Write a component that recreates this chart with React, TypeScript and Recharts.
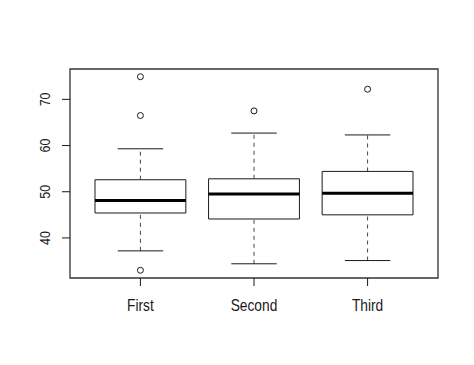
import React from "react";
import {
  ComposedChart,
  XAxis,
  YAxis,
  Scatter,
  ReferenceArea,
  ReferenceLine,
} from "recharts";

const groups = ["First", "Second", "Third"];
const lowerWhisker = [37.2, 34.4, 35.1];
const lowerQuartile = [45.4, 44.1, 45.0];
const medians = [48.1, 49.5, 49.7];
const upperQuartile = [52.6, 52.8, 54.4];
const upperWhisker = [59.3, 62.7, 62.3];
const outliers = [[74.9, 66.5, 33.0], [67.5], [72.2]];
const yTicks = [40, 50, 60, 70];

const FONT = "'Liberation Sans', Arial, Helvetica, sans-serif";
const INK = "#1a1a1a";

// same padding as R: data range + 4% on each side
const allValues = [...lowerWhisker, ...upperWhisker, ...outliers.flat()];
const lo = Math.min(...allValues);
const hi = Math.max(...allValues);
const yMin = lo - (hi - lo) * 0.04;
const yMax = hi + (hi - lo) * 0.04;
const xMin = 0.5 - 0.12;
const xMax = groups.length + 0.5 + 0.12;

const outlierPoints = outliers.flatMap((vals, i) =>
  vals.map((v) => ({ x: i + 1, y: v }))
);

// R's bitmap Helvetica is narrower than Liberation Sans, so squeeze a bit
const XTick = (props: any) => {
  const { x, y, payload } = props;
  return (
    <g transform={`translate(${x}, ${y + 23}) scale(0.86, 1)`}>
      <text x={0} y={0} textAnchor="middle" fontFamily={FONT} fontSize={16} fill={INK}>
        {groups[payload.value - 1]}
      </text>
    </g>
  );
};

const YTick = (props: any) => {
  const { x, y, payload } = props;
  return (
    <g transform={`translate(${x - 10}, ${y}) rotate(-90) scale(0.81, 1)`}>
      <text x={0} y={0} textAnchor="middle" fontFamily={FONT} fontSize={15.5} fill={INK}>
        {payload.value}
      </text>
    </g>
  );
};

const Circle = (props: any) => (
  <circle cx={props.cx} cy={props.cy} r={3} fill="#fff" stroke={INK} strokeWidth={1} />
);

export default function App() {
  return (
    <div style={{ position: "fixed", left: 0, top: 0, background: "#fff" }}>
      <ComposedChart
        width={474}
        height={365}
        margin={{ top: 69, right: 36, bottom: 57, left: 0 }}
      >
        <XAxis
          type="number"
          dataKey="x"
          domain={[xMin, xMax]}
          allowDataOverflow
          ticks={[1, 2, 3]}
          tick={<XTick />}
          tickSize={8}
          tickMargin={2}
          tickLine={{ stroke: INK }}
          axisLine={false}
          height={30}
        />
        <YAxis
          type="number"
          dataKey="y"
          domain={[yMin, yMax]}
          allowDataOverflow
          ticks={yTicks}
          tick={<YTick />}
          tickSize={8}
          tickMargin={2}
          tickLine={{ stroke: INK }}
          axisLine={false}
          width={70}
        />
        <ReferenceArea
          x1={xMin}
          x2={xMax}
          y1={yMin}
          y2={yMax}
          fill="none"
          fillOpacity={0}
          stroke="#333"
          strokeWidth={1.3}
          ifOverflow="visible"
        />
        {groups.map((g, i) => {
          const c = i + 1;
          return (
            <React.Fragment key={g}>
              <ReferenceLine
                segment={[
                  { x: c, y: upperQuartile[i] },
                  { x: c, y: upperWhisker[i] },
                ]}
                stroke="#444"
                strokeDasharray="4 4"
              />
              <ReferenceLine
                segment={[
                  { x: c, y: lowerWhisker[i] },
                  { x: c, y: lowerQuartile[i] },
                ]}
                stroke="#444"
                strokeDasharray="4 4"
              />
              <ReferenceLine
                segment={[
                  { x: c - 0.2, y: upperWhisker[i] },
                  { x: c + 0.2, y: upperWhisker[i] },
                ]}
                stroke={INK}
              />
              <ReferenceLine
                segment={[
                  { x: c - 0.2, y: lowerWhisker[i] },
                  { x: c + 0.2, y: lowerWhisker[i] },
                ]}
                stroke={INK}
              />
              <ReferenceArea
                x1={c - 0.4}
                x2={c + 0.4}
                y1={lowerQuartile[i]}
                y2={upperQuartile[i]}
                fill="#fff"
                fillOpacity={1}
                stroke={INK}
                strokeWidth={1}
              />
              <ReferenceLine
                segment={[
                  { x: c - 0.4, y: medians[i] },
                  { x: c + 0.4, y: medians[i] },
                ]}
                stroke="#000"
                strokeWidth={3}
              />
            </React.Fragment>
          );
        })}
        <Scatter
          data={outlierPoints}
          shape={<Circle />}
          isAnimationActive={false}
        />
      </ComposedChart>
    </div>
  );
}
